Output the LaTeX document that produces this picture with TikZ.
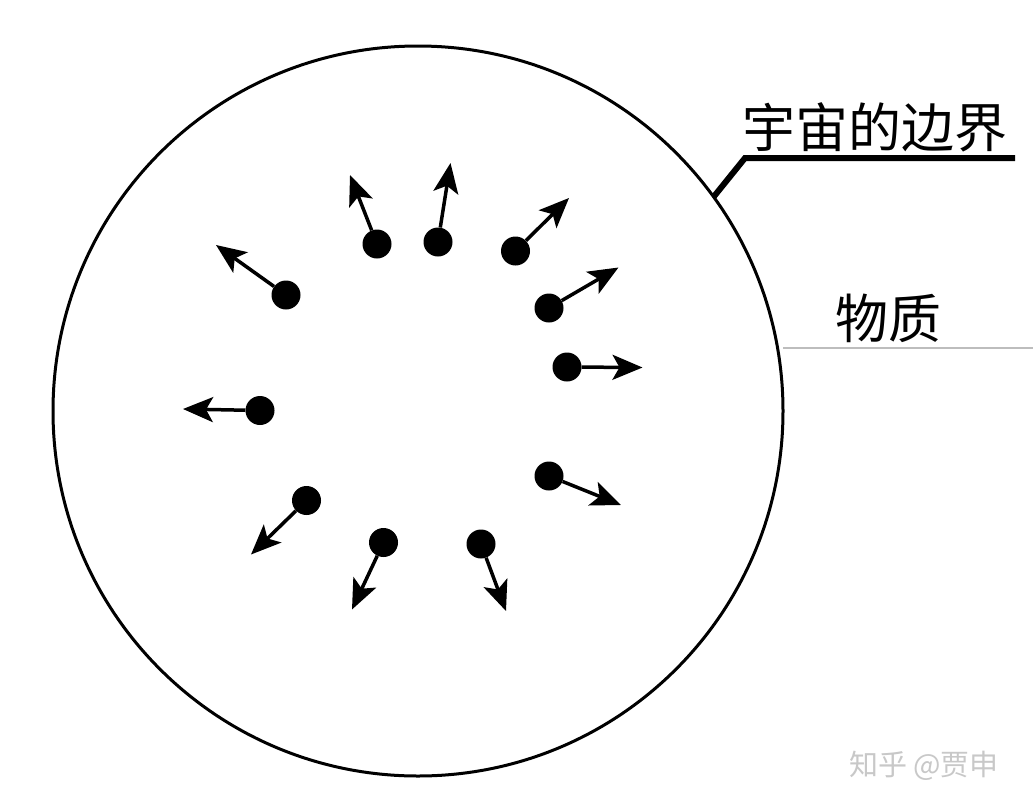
\documentclass[tikz,border=0pt]{standalone}
\usepackage{fontspec}
\newfontfamily\cjk{Noto Sans CJK SC}
\usetikzlibrary{arrows.meta}
\definecolor{wm}{HTML}{C8C8C8}
\definecolor{gline}{HTML}{BDBDBD}
\begin{document}
\begin{tikzpicture}[x=1pt,y=-1pt,
  dot/.style={circle,fill=black,inner sep=0pt,minimum size=29pt},
  arr/.style={line width=3.5pt,-{Stealth[length=30pt,width=25pt,inset=7pt]}},
  lbl/.style={font=\cjk\fontsize{53}{53}\selectfont,inner sep=0pt}]
\useasboundingbox (0,0) rectangle (1033,809);
\fill[white] (0,0) rectangle (1033,809);
% universe boundary
\node[circle,draw,line width=3pt,minimum size=730pt,inner sep=0pt] (univ) at (418,411) {};
% labels
\node[lbl] (bound) at (875,127) {宇宙的边界};
\node[lbl] (matter) at (888,318) {物质};
\node[font=\cjk\fontsize{29}{29}\selectfont,text=wm,inner sep=0pt] (wmk) at (924,766) {知乎 @贾申};
\coordinate (c1) at (713.5,197);
\coordinate (c2) at (745,158);
\coordinate (c3) at (1015,158);
\draw[line width=6pt] (c1) -- (c2) -- (c3);
\coordinate (m1) at (783,348);
\coordinate (m2) at (1033,348);
\draw[draw=gline,line width=1.2pt] (m1) -- (m2);
% particles
\foreach \i/\dx/\dy/\tx/\ty in {
  1/286/295/216/245,
  2/377/244/350/175,
  3/438/242/450.5/163,
  4/515.5/251/569/198,
  5/549/308/618.5/267.5,
  6/567/367/642.5/367.5,
  7/260/410.5/183/409,
  8/549/476/621/505,
  9/306.5/500.5/251/554.5,
  10/383.5/542.5/352/609.5,
  11/481/544/506/611}{
  \node[dot] (d\i) at (\dx,\dy) {};
  \coordinate (t\i) at (\tx,\ty);
  \draw[arr] (d\i) -- (t\i);
}
\end{tikzpicture}
\end{document}
